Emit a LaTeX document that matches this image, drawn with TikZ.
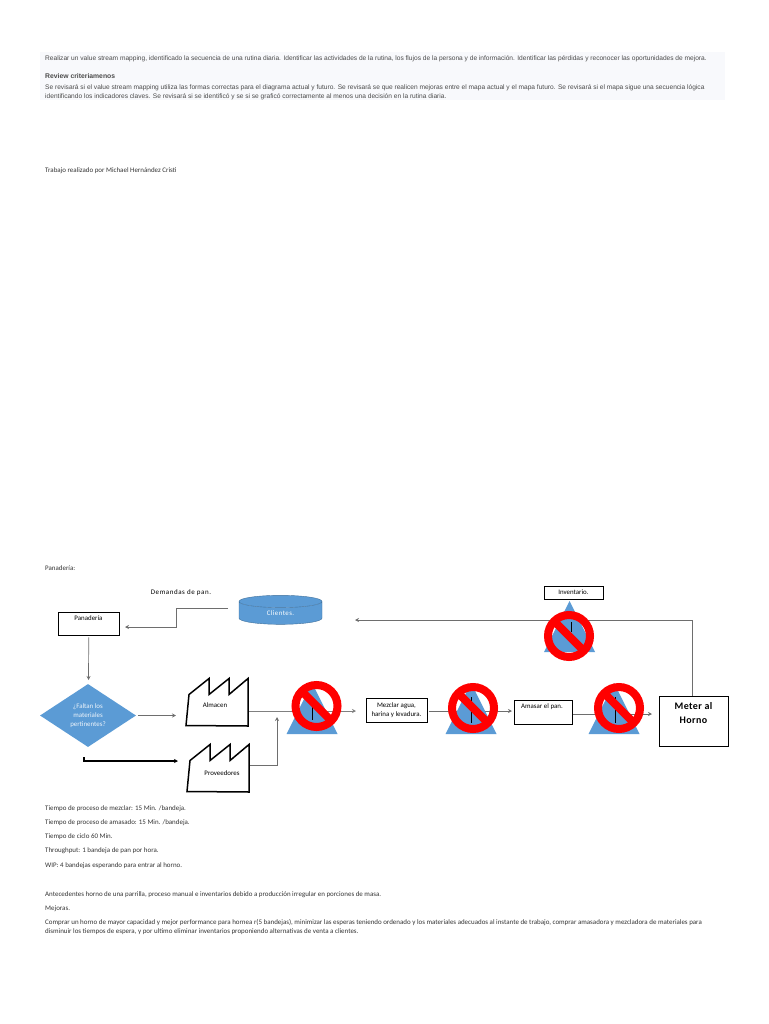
\documentclass[tikz,border=0pt]{standalone}
\usepackage{fontspec}
\setmainfont{Carlito}
\newfontfamily\arialfont{Liberation Sans}
\usepackage{xcolor}
\usetikzlibrary{
  shapes.geometric,
  arrows.meta,
  positioning
}
\definecolor{vsmblue}{HTML}{5B9BD5}
\definecolor{vsmedge}{HTML}{41719C}
\definecolor{panelbg}{HTML}{F8F9FC}
\definecolor{flowgray}{HTML}{6E6E6E}
\definecolor{webtext}{HTML}{4A4A4A}
\tikzset{
  webline/.style={font=\arialfont\fontsize{6.6}{7}\selectfont, text=webtext, anchor=west, inner sep=0pt},
  docline/.style={font=\fontsize{6.95}{8}\selectfont, text=black!80, anchor=west, inner sep=0pt},
  procbox/.style={draw=black, line width=0.9pt, fill=white, inner sep=0pt, align=center, font=\fontsize{6.9}{8.5}\selectfont},
  factory/.style={draw=black, line width=1.5pt, fill=white, line join=miter},
  factorylbl/.style={font=\fontsize{6.9}{8}\selectfont, inner sep=0pt},
  flow/.style={draw=flowgray, line width=0.7pt, -{Stealth[length=4pt,width=4pt]}},
  stoptri/.style={fill=vsmblue, draw=none},
  stopring/.style={draw=red, line width=8pt}
}
\begin{document}
\begin{tikzpicture}[x=1pt,y=-1pt]
  \useasboundingbox (0,0) rectangle (768,1024);

  % Assignment text
  \fill[panelbg] (40,52) rectangle (725,100);
  \node[webline] (tarea) at (45,59) {Realizar un value stream mapping, identificado la secuencia de una rutina diaria. Identificar las actividades de la rutina, los flujos de la persona y de información. Identificar las pérdidas y reconocer las oportunidades de mejora.};
  \node[webline, font=\arialfont\bfseries\fontsize{6.8}{7}\selectfont] (review) at (45,76) {Review criteriamenos};
  \node[webline] (reviewa) at (45,88) {Se revisará si el value stream mapping utiliza las formas correctas para el diagrama actual y futuro. Se revisará se que realicen mejoras entre el mapa actual y el mapa futuro. Se revisará si el mapa sigue una secuencia lógica};
  \node[webline] (reviewb) at (45,97) {identificando los indicadores claves. Se revisará si se identificó y se si se graficó correctamente al menos una decisión en la rutina diaria.};
  \node[docline] (autor) at (45,171) {Trabajo realizado por Michael Hernández Cristi};
  \node[docline] (titulo) at (45,568) {Panadería:};

  % Boxes
  \node[procbox, minimum width=60.5pt, minimum height=22.5pt] (panaderia) at (88.75,623.75) {};
  \node[factorylbl] (panaderialbl) at (88.5,618.5) {Panadería};
  \node[cylinder, shape border rotate=90, aspect=0.45, minimum width=83pt, minimum height=29pt, inner sep=0pt,
    cylinder uses custom fill, cylinder body fill=vsmblue, cylinder end fill=vsmblue, draw=vsmedge, line width=0.4pt,
    text=white, font=\fontsize{6.9}{8}\selectfont\addfontfeatures{LetterSpace=6}] (clientes) at (280.5,613) {Clientes.};
  \node[font=\fontsize{7}{8}\selectfont\addfontfeatures{LetterSpace=8}, inner sep=0pt] (demandas) at (181,593) {Demandas de pan.};
  \node[diamond, fill=vsmblue, inner sep=0pt, minimum width=96pt, minimum height=63pt, text=white!90!vsmblue,
    align=center, font=\fontsize{6.9}{9}\selectfont] (decision) at (88,715.5) {¿Faltan los\\materiales\\pertinentes?};
  \node[procbox, minimum width=59pt, minimum height=13pt] (inventario) at (573.5,592.5) {Inventario.};
  \node[procbox, minimum width=61pt, minimum height=24pt] (mezclar) at (396.5,710) {Mezclar agua,\\harina y levadura.};
  \node[procbox, minimum width=58pt, minimum height=24pt] (amasar) at (543,712) {};
  \node[factorylbl] (amasarlbl) at (542,706.5) {Amasar el pan.};
  \node[procbox, minimum width=69pt, minimum height=50pt] (horno) at (693.5,721) {};
  \node[inner sep=0pt, align=center, font=\bfseries\fontsize{10}{14}\selectfont\addfontfeatures{LetterSpace=4}] (hornolbl) at (693.5,713) {Meter al\\Horno};

  % Free ends of the connectors
  \coordinate (tipa) at (356,711);
  \coordinate (tipb) at (512,711);
  \coordinate (tipc) at (652,714);
  \coordinate (tipd) at (355,620);
  \coordinate (tipe) at (125,627);
  \coordinate (tipf) at (277,717);
  \coordinate (tipg) at (176,715.5);
  \coordinate (tiph) at (178,761);
  \coordinate (almacenout) at (248,711);
  \coordinate (proveedorout) at (249,765.5);
  \coordinate (demandain) at (228,608.5);
  \coordinate (retorno) at (84,757);

  % Connectors
  \draw[flow] (demandain) -| (176,627) -- (tipe);
  \draw[flow] (panaderia.south) ++(0,2) -- (88.5,680);
  \draw[flow] (138,715.5) -- (tipg);
  \draw[flow, draw=gray] (almacenout) -- (tipa);
  \draw[flow] (proveedorout) -| (tipf);
  \draw[flow, draw=black, line width=1.6pt] (retorno) |- (tiph);
  \draw[flow] (mezclar.east) ++(2,1) -- (tipb);
  \draw[flow] (amasar.east) ++(1,2) -- (tipc);
  \draw[flow] ([xshift=-1.5pt]horno.north) |- (tipd);

  % Factories
  \foreach \name/\x/\y/\lbl/\lx/\ly in {almacen/186/725.5/Almacen/215/705, proveedores/187/791.5/Proveedores/222/773}{
    \draw[factory] (\x,\y) -- ++(3,-31) -- ++(20,-16) -- ++(0,16) -- ++(20,-16) -- ++(0,16) -- ++(19,-16) -- ++(0,47.5) -- cycle;
    \node[factorylbl] (\name) at (\lx,\ly) {\lbl};
  }

  % Inventory triangles with the stop sign over them
  \foreach \i/\tx/\ty/\lx/\la/\lb/\sx/\sy in {
    a/312/734/312.5/707/720/316.5/706,
    b/471/734/471/697/723/473/708,
    c/569.5/652/571/622/632/569/636,
    d/614/734/615/697/723/619/708
  }{
    \fill[stoptri] (\tx-25.5,\ty) -- (\tx,\ty-51) -- (\tx+25.5,\ty) -- cycle;
    \draw[black, line width=0.8pt] (\lx,\la) -- (\lx,\lb);
    \node[circle, stopring, minimum size=42pt, inner sep=0pt] (stop\i) at (\sx,\sy) {};
    \draw[red, line width=8pt] (\sx-15,\sy-15) -- (\sx+15,\sy+15);
  }

  % Notes under the map
  \foreach \i/\y/\lbl in {
    1/808.5/{Tiempo de proceso de mezclar: 15 Min. /bandeja.},
    2/822.5/{Tiempo de proceso de amasado: 15 Min. /bandeja.},
    3/837/{Tiempo de ciclo 60 Min.},
    4/851/{Throughput: 1 bandeja de pan por hora.},
    5/865.5/{WIP: 4 bandejas esperando para entrar al horno.},
    6/894.5/{Antecedentes horno de una parrilla, proceso manual e inventarios debido a producción irregular en porciones de masa.},
    7/908.5/{Mejoras.},
    8/922.5/{Comprar un horno de mayor capacidad y mejor performance para hornea r(5 bandejas), minimizar las esperas teniendo ordenado y los materiales adecuados al instante de trabajo, comprar amasadora y mezcladora de materiales para},
    9/931.5/{disminuir los tiempos de espera, y por ultimo eliminar inventarios proponiendo alternativas de venta a clientes.}
  }{
    \node[docline] (nota\i) at (45,\y) {\lbl};
  }

\end{tikzpicture}
\end{document}
